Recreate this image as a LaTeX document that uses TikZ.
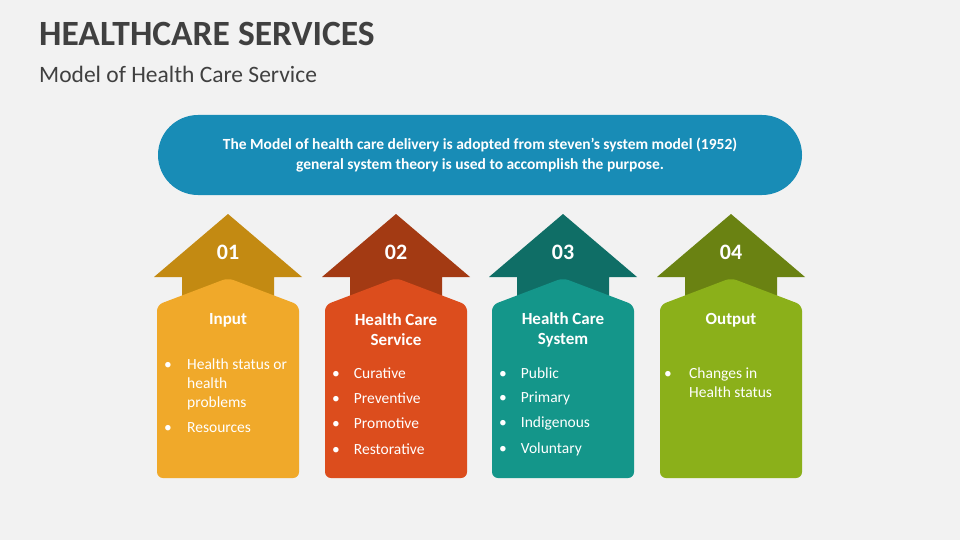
\documentclass[tikz,border=0pt]{standalone}
\usepackage{fontspec}
\setmainfont{Carlito}
\begin{document}
\begin{tikzpicture}[x=1pt,y=-1pt,
  lbl/.style={text=white,font=\bfseries\fontsize{17}{20}\selectfont,align=center},
  num/.style={text=white,font=\bfseries\fontsize{22}{24}\selectfont},
  lst/.style={text=white,font=\fontsize{15.5}{19}\selectfont,align=left,inner sep=0pt}]
\fill[gray!10] (0,0) rectangle (960,540);
\useasboundingbox (0,0) rectangle (960,540);
\node[anchor=west,inner sep=0,font=\bfseries\fontsize{35.5}{38}\selectfont,text=black!75] (title) at (39,34) {HEALTHCARE SERVICES};
\node[anchor=west,inner sep=0,font=\fontsize{23.5}{26}\selectfont,text=black!75] (sub) at (39,74) {Model of Health Care Service};
\fill[rounded corners=40pt,fill={rgb,255:red,24;green,140;blue,182}] (158,115) rectangle (802,195);
\node[text=white,font=\bfseries\fontsize{15.5}{20}\selectfont,align=center] (banner) at (480,155)
 {The Model of health care delivery is adopted from steven’s system model (1952)\\general system theory is used to accomplish the purpose.};
\foreach \cx/\dk/\bd/\n [count=\i] in {228/C38A12/F0A92A/01,396/A33A13/DC4D1D/02,563/0F6E66/14968A/03,731/6A8212/8BB01A/04}{
  \definecolor{dk\i}{HTML}{\dk}\definecolor{bd\i}{HTML}{\bd}
  \fill[dk\i] (\cx,214) -- (\cx+74,277) -- (\cx+46,277) -- (\cx+46,298) -- (\cx+71,310) -- (\cx-71,310) -- (\cx-46,298) -- (\cx-46,277) -- (\cx-74,277) -- cycle;
  \fill[bd\i,rounded corners=6pt] (\cx,278) -- (\cx+71,305) -- (\cx+71,478) -- (\cx-71,478) -- (\cx-71,305) -- cycle;
  \node[num] (n\i) at (\cx,252) {\n};
}
\node[lbl] (h1) at (228,320) {Input};
\node[lbl] (h2) at (396,330) {Health Care\\Service};
\node[lbl] (h3) at (563,330) {Health Care\\System};
\node[lbl] (h4) at (731,320) {Output};
\foreach \x/\items in {332/{Curative,Preventive,Promotive,Restorative},499/{Public,Primary,Indigenous,Voluntary}}{
  \foreach \t [count=\j] in \items {\node[lst,anchor=west] at (\x,373+25.3*\j-25.3) {\textbullet\hspace{14pt}\t};}
}
\node[lst,anchor=north west] (l1) at (164,356) {\begin{tabular}{@{}p{23pt}@{}l@{}}\textbullet & Health status or\\ & health\\ & problems\\[6pt]\textbullet & Resources\end{tabular}};
\node[lst,anchor=north west] (l4) at (664,365) {\begin{tabular}{@{}p{25pt}@{}l@{}}\textbullet & Changes in\\ & Health status\end{tabular}};
\end{tikzpicture}
\end{document}
